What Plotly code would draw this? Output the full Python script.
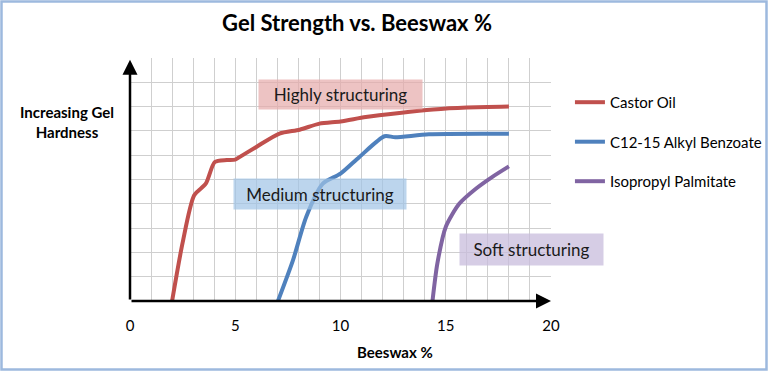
import plotly.graph_objects as go

# Data
castor_x = [2.0, 2.5, 3.05, 3.6, 4.03, 4.6, 5.0, 5.2, 6.0, 7.1, 8.06, 9.0, 10.0, 11.2, 12.8, 14.4, 16.0, 18.0]
castor_y = [0.0, 2.4, 4.35, 4.83, 5.72, 5.8, 5.82, 5.92, 6.34, 6.89, 7.05, 7.3, 7.39, 7.57, 7.74, 7.88, 7.96, 8.0]

benz_x = [7.03, 7.74, 8.37, 9.16, 10.0, 10.9, 12.09, 12.6, 14.2, 18.0]
benz_y = [0.0, 1.67, 3.46, 4.83, 5.24, 5.93, 6.78, 6.74, 6.86, 6.88]

ipp_x = [14.37, 14.6, 15.0, 15.64, 16.43, 17.2, 18.0]
ipp_y = [0.0, 1.54, 3.05, 4.0, 4.62, 5.1, 5.54]

series_names = ["Castor Oil", "C12-15 Alkyl Benzoate", "Isopropyl Palmitate"]
colors = ["#C0504D", "#4F81BD", "#8064A2"]
x_ticks = [0, 5, 10, 15, 20]

FONT = "Lato, Carlito, Calibri, sans-serif"

fig = go.Figure()
for i, (xs, ys) in enumerate([(castor_x, castor_y), (benz_x, benz_y), (ipp_x, ipp_y)]):
    fig.add_trace(go.Scatter(
        x=xs, y=ys, mode="lines", name=series_names[i],
        line=dict(color=colors[i], width=4, shape="spline", smoothing=0.7),
        legendgroup=f"g{i}",
    ))

# Labelled regions
fig.add_annotation(x=10.0, y=8.48, xref="x", yref="y", text="Highly structuring",
                   showarrow=False, bgcolor="rgba(230,170,170,0.7)", width=161, height=27,
                   font=dict(family=FONT, size=17, color="#1a1a1a"))
fig.add_annotation(x=9.03, y=4.4, xref="x", yref="y", text="Medium structuring",
                   showarrow=False, bgcolor="rgba(160,195,230,0.7)", width=170, height=28,
                   font=dict(family=FONT, size=17, color="#1a1a1a"))
fig.add_annotation(x=19.07, y=2.13, xref="x", yref="y", text="Soft structuring",
                   showarrow=False, bgcolor="rgba(200,188,220,0.75)", width=141, height=29,
                   font=dict(family=FONT, size=17, color="#1a1a1a"))

# Axis arrows
fig.add_annotation(x=20, y=0, ax=0, ay=0, xref="x", yref="y", axref="x", ayref="y",
                   text="", showarrow=True, arrowhead=2, arrowsize=1.2, arrowwidth=2.5,
                   arrowcolor="black")
fig.add_annotation(x=0, y=9.93, ax=0, ay=0, xref="x", yref="y", axref="x", ayref="y",
                   text="", showarrow=True, arrowhead=2, arrowsize=1.2, arrowwidth=2.5,
                   arrowcolor="black")

# Y-axis label
fig.add_annotation(x=-0.15, y=0.737, xref="paper", yref="paper", xanchor="center", yanchor="middle",
                   text="<b>Increasing Gel<br>Hardness</b>", showarrow=False,
                   font=dict(family=FONT, size=15, color="black"))

# X-axis title
fig.add_annotation(x=(395 - 130) / 421, y=-(352 - 301) / 243, xref="paper", yref="paper",
                   xanchor="center", yanchor="middle", text="<b>Beeswax %</b>", showarrow=False,
                   font=dict(family=FONT, size=15, color="black"))

# Outer frame
fig.add_shape(type="rect", xref="paper", yref="paper",
              x0=-(130-1.5)/421, x1=(768-130-1.5)/421, y0=-(70-1.5)/243, y1=(243+58-1.5)/243,
              line=dict(color="#9DB9DE", width=2.5))

fig.update_layout(
    width=768, height=371,
    margin=dict(l=130, r=217, t=58, b=70, autoexpand=False),
    paper_bgcolor="white", plot_bgcolor="white",
    title=dict(text="<b>Gel Strength vs. Beeswax %</b>", x=357/768, xanchor="center",
               y=1 - 23/371, yanchor="middle",
               font=dict(family=FONT, size=22, color="black")),
    xaxis=dict(range=[0, 20], tickvals=x_ticks, ticktext=[str(t) for t in x_ticks],
               showgrid=False, zeroline=False, showline=False, automargin=False,
               tickfont=dict(family=FONT, size=15, color="black"),
               ticks="", ticklen=0, ticklabelstandoff=14,
               minor=dict(dtick=1, showgrid=True, gridcolor="#CFCFCF", gridwidth=1)),
    yaxis=dict(range=[0, 10], dtick=1, showgrid=True, gridcolor="#CFCFCF", gridwidth=1,
               zeroline=False, showline=False, showticklabels=False, automargin=False),
    legend=dict(x=1.045, y=0.885, xanchor="left", yanchor="top",
                font=dict(family=FONT, size=15, color="black"),
                tracegroupgap=17, itemwidth=30, bgcolor="rgba(0,0,0,0)"),
    showlegend=True,
)

fig.write_html("out.html", config={"displayModeBar": False},
               post_script="document.body.style.margin='0';")
